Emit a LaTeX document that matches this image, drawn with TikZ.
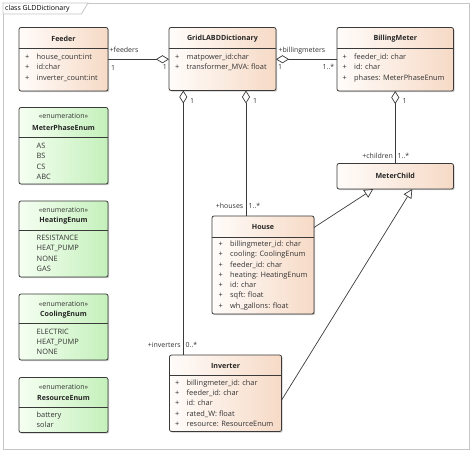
\documentclass[tikz,border=0pt]{standalone}
\usepackage{fontspec}
\setmainfont{Open Sans}
\usetikzlibrary{positioning,arrows.meta,shadows}

\definecolor{classleft}{HTML}{FFFCFA}
\definecolor{classright}{HTML}{F6DAC6}
\definecolor{enumleft}{HTML}{F5FFF2}
\definecolor{enumright}{HTML}{C4F0BB}
\definecolor{linegray}{HTML}{3A3A3A}
\definecolor{framegray}{HTML}{C6C6C6}

\newcommand{\umlattr}[1]{\strut\makebox[11.5pt][l]{+}#1}
\newcommand{\umlval}[1]{\strut#1}

\begin{document}
\begin{tikzpicture}[x=1pt,y=-1pt]
  \tikzset{ClassStyle/.style = {
    shape         = rectangle,
    draw          = linegray,
    line width    = 0.8pt,
    rounded corners = 2pt,
    left color    = classleft,
    right color   = classright,
    drop shadow   = {shadow xshift=1.2pt, shadow yshift=-1.2pt, fill=black!40, opacity=0.5},
    anchor        = north west,
    inner sep     = 0pt,
    outer sep     = 0pt
    }
  }
  \tikzset{EnumStyle/.style = {
    ClassStyle,
    left color    = enumleft,
    right color   = enumright
    }
  }
  \tikzset{TitleStyle/.style = {
    font          = \fontsize{7.1}{8}\selectfont\bfseries,
    text          = black!85,
    inner sep     = 0pt
    }
  }
  \tikzset{StereoStyle/.style = {
    font          = \fontsize{7}{8}\selectfont,
    text          = black!80,
    inner sep     = 0pt
    }
  }
  \tikzset{AttrStyle/.style = {
    font          = \fontsize{7.4}{10.3}\selectfont,
    text          = black!80,
    align         = left,
    anchor        = north west,
    inner sep     = 0pt
    }
  }
  \tikzset{SepStyle/.style = {draw = linegray, line width = 0.8pt}}
  \tikzset{AggStyle/.style = {
    draw          = linegray,
    line width    = 0.7pt,
    -{Diamond[open, length=13pt, width=8pt]}
    }
  }
  \tikzset{GenStyle/.style = {
    draw          = linegray,
    line width    = 0.7pt,
    -{Triangle[length=9pt, width=9pt, fill=white]}
    }
  }
  \tikzset{RoleStyle/.style = {
    font          = \fontsize{7}{8}\selectfont,
    text          = black!80,
    inner sep     = 0pt
    }
  }

  \useasboundingbox (0,0) rectangle (474,454);

  % frame
  \draw[framegray, line width=0.8pt] (3,3) rectangle (469,449);
  \draw[framegray, line width=0.8pt, fill=white] (3,3) -- (88,3) -- (81.5,14) -- (3,14) -- cycle;
  \node[anchor=west, inner sep=0pt, font=\fontsize{7}{8}\selectfont, text=black] (FrameLabel) at (5,8.8) {class GLDDictionary};

  % classes
	\node[ClassStyle, minimum width=89pt, minimum height=63.5pt](Feeder) at (19,27.5) {};
	\node[ClassStyle, minimum width=107pt, minimum height=63pt](Grid) at (169,27.5) {};
	\node[ClassStyle, minimum width=116.5pt, minimum height=63.5pt](BillingMeter) at (337,27.5) {};
	\node[ClassStyle, minimum width=116.5pt, minimum height=25.5pt](MeterChild) at (337,163.5) {};
	\node[ClassStyle, minimum width=102pt, minimum height=98pt](House) at (212,216) {};
	\node[ClassStyle, minimum width=112pt, minimum height=76.5pt](Inverter) at (169.5,355) {};

	\draw[SepStyle] (Feeder.west |- 0,48.5) -- (Feeder.east |- 0,48.5);
	\draw[SepStyle] (Grid.west |- 0,48.5) -- (Grid.east |- 0,48.5);
	\draw[SepStyle] (BillingMeter.west |- 0,48.5) -- (BillingMeter.east |- 0,48.5);
	\draw[SepStyle] (House.west |- 0,237) -- (House.east |- 0,237);
	\draw[SepStyle] (Inverter.west |- 0,375.5) -- (Inverter.east |- 0,375.5);

	\node[TitleStyle](FeederT) at (Feeder.north |- 0,38.5) {Feeder};
	\node[TitleStyle](GridT) at (Grid.north |- 0,38.5) {GridLABDDictionary};
	\node[TitleStyle](BillingMeterT) at (BillingMeter.north |- 0,38.5) {BillingMeter};
	\node[TitleStyle](MeterChildT) at (MeterChild) {MeterChild};
	\node[TitleStyle](HouseT) at (House.north |- 0,227) {House};
	\node[TitleStyle](InverterT) at (Inverter.north |- 0,366) {Inverter};

	\node[AttrStyle](FeederA) at (25,52.1) {\umlattr{house\_count:int}\\\umlattr{id:char}\\\umlattr{inverter\_count:int}};
	\node[AttrStyle](GridA) at (175,52.1) {\umlattr{matpower\_id:char}\\\umlattr{transformer\_MVA: float}};
	\node[AttrStyle](BillingMeterA) at (342.5,52.1) {\umlattr{feeder\_id: char}\\\umlattr{id: char}\\\umlattr{phases: MeterPhaseEnum}};
	\node[AttrStyle](HouseA) at (218.5,239) {\umlattr{billingmeter\_id: char}\\\umlattr{cooling: CoolingEnum}\\\umlattr{feeder\_id: char}\\\umlattr{heating: HeatingEnum}\\\umlattr{id: char}\\\umlattr{sqft: float}\\\umlattr{wh\_gallons: float}};
	\node[AttrStyle](InverterA) at (175,377.8) {\umlattr{billingmeter\_id: char}\\\umlattr{feeder\_id: char}\\\umlattr{id: char}\\\umlattr{rated\_W: float}\\\umlattr{resource: ResourceEnum}};

  % enumerations
	\node[EnumStyle, minimum width=89pt, minimum height=76.5pt](PhaseEnum) at (19,107.5) {};
	\node[EnumStyle, minimum width=89pt, minimum height=76pt](HeatEnum) at (19,201) {};
	\node[EnumStyle, minimum width=89pt, minimum height=66pt](CoolEnum) at (19,294) {};
	\node[EnumStyle, minimum width=89pt, minimum height=55pt](ResEnum) at (19,377.5) {};

	\draw[SepStyle] (PhaseEnum.west |- 0,137) -- (PhaseEnum.east |- 0,137);
	\draw[SepStyle] (HeatEnum.west |- 0,230) -- (HeatEnum.east |- 0,230);
	\draw[SepStyle] (CoolEnum.west |- 0,323) -- (CoolEnum.east |- 0,323);
	\draw[SepStyle] (ResEnum.west |- 0,407) -- (ResEnum.east |- 0,407);

	\node[StereoStyle] at (PhaseEnum.north |- 0,115.5) {«enumeration»};
	\node[TitleStyle](PhaseEnumT) at (PhaseEnum.north |- 0,127.5) {MeterPhaseEnum};
	\node[StereoStyle] at (HeatEnum.north |- 0,210) {«enumeration»};
	\node[TitleStyle](HeatEnumT) at (HeatEnum.north |- 0,221) {HeatingEnum};
	\node[StereoStyle] at (CoolEnum.north |- 0,303.5) {«enumeration»};
	\node[TitleStyle](CoolEnumT) at (CoolEnum.north |- 0,314.5) {CoolingEnum};
	\node[StereoStyle] at (ResEnum.north |- 0,387) {«enumeration»};
	\node[TitleStyle](ResEnumT) at (ResEnum.north |- 0,398) {ResourceEnum};

	\node[AttrStyle](PhaseEnumA) at (36.5,141.1) {\umlval{AS}\\\umlval{BS}\\\umlval{CS}\\\umlval{ABC}};
	\node[AttrStyle](HeatEnumA) at (36.5,233.1) {\umlval{RESISTANCE}\\\umlval{HEAT\_PUMP}\\\umlval{NONE}\\\umlval{GAS}};
	\node[AttrStyle](CoolEnumA) at (36.5,326.8) {\umlval{ELECTRIC}\\\umlval{HEAT\_PUMP}\\\umlval{NONE}};
	\node[AttrStyle](ResEnumA) at (36.5,410.1) {\umlval{battery}\\\umlval{solar}};

  % associations
	\draw[AggStyle] (Feeder.east) -- (Feeder.east -| Grid.west);
	\draw[AggStyle] (BillingMeter.west) -- (BillingMeter.west -| Grid.east);
	\draw[AggStyle] ([xshift=13.8pt]Inverter.north west) -- ([xshift=13.8pt]Inverter.north west |- Grid.south);
	\draw[AggStyle] ([xshift=34pt]House.north west) -- ([xshift=34pt]House.north west |- Grid.south);
	\draw[AggStyle] (MeterChild.north) -- (BillingMeter.south);
	\draw[GenStyle] ([yshift=-11.5pt]House.north east) -- ([xshift=-22pt]MeterChild.south);
	\draw[GenStyle] ([yshift=-7pt]Inverter.east) -- ([xshift=17pt]MeterChild.south);

	\node[RoleStyle, anchor=west] at (109.5,50) {+feeders};
	\node[RoleStyle, anchor=west] at (111,68.5) {1};
	\node[RoleStyle, anchor=east] at (167,67) {1};
	\node[RoleStyle, anchor=west] at (278.5,50.5) {+billingmeters};
	\node[RoleStyle, anchor=west] at (278,67) {1};
	\node[RoleStyle, anchor=east] at (334.5,67) {1..*};
	\node[RoleStyle, anchor=west] at (190,101) {1};
	\node[RoleStyle, anchor=west] at (253,101) {1};
	\node[RoleStyle, anchor=west] at (402.5,101) {1};
	\node[RoleStyle, anchor=east] at (243.5,206) {+houses};
	\node[RoleStyle, anchor=west] at (248.5,206) {1..*};
	\node[RoleStyle, anchor=east] at (181,345) {+inverters};
	\node[RoleStyle, anchor=west] at (185.5,345) {0..*};
	\node[RoleStyle, anchor=east] at (393,155.5) {+children};
	\node[RoleStyle, anchor=west] at (397.5,155.5) {1..*};

\end{tikzpicture}
\end{document}
